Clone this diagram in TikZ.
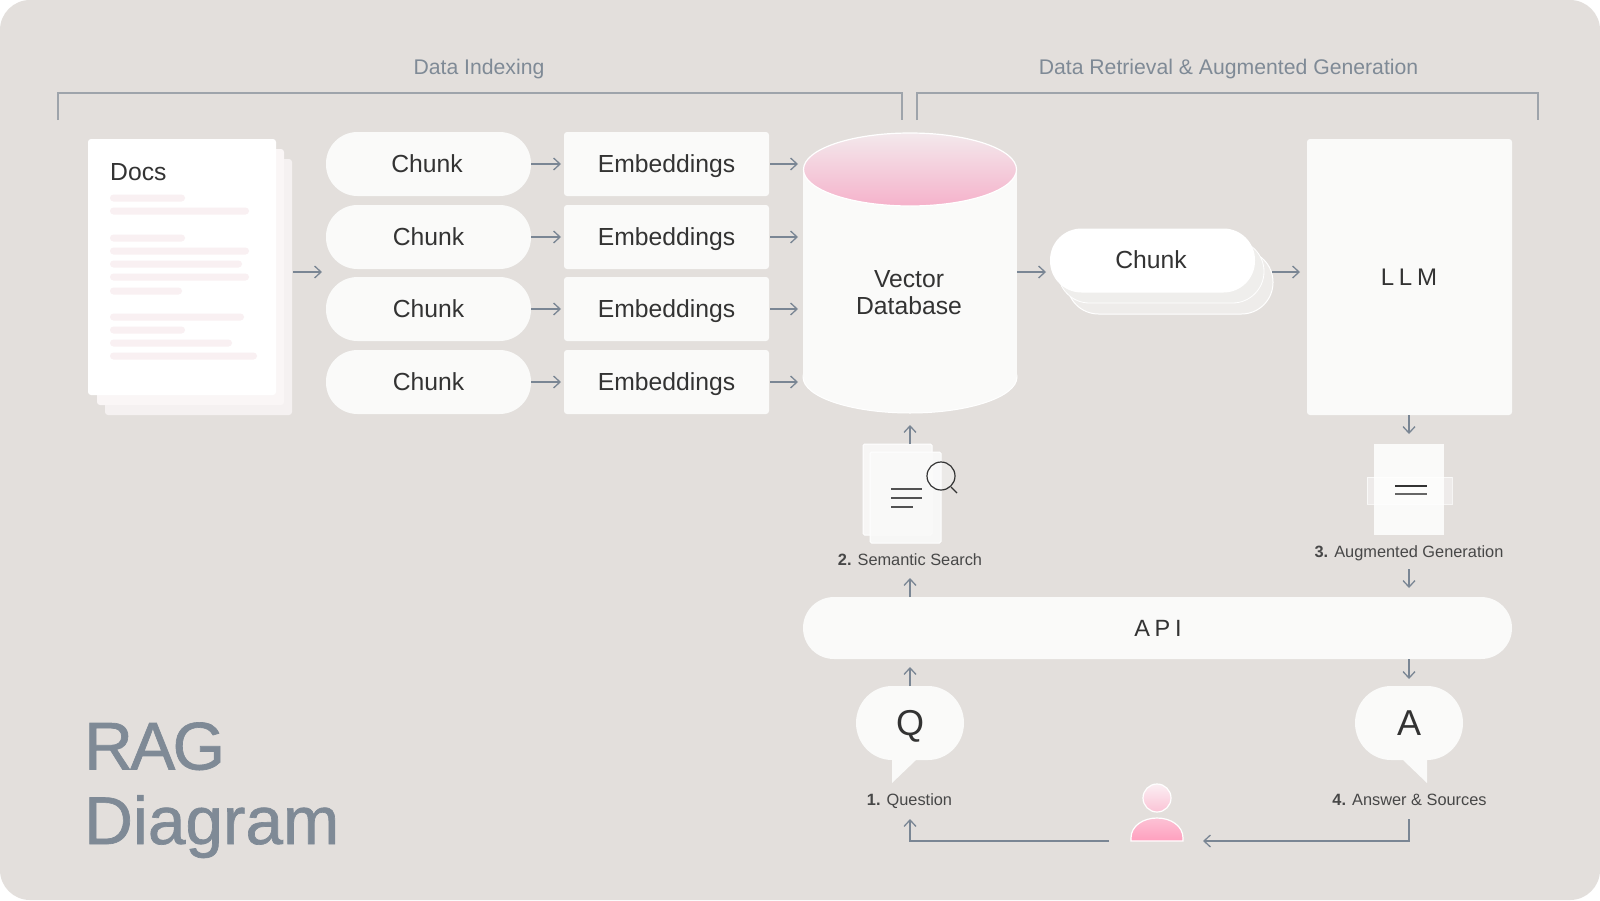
\documentclass[tikz,border=0pt]{standalone}
\usepackage{fontspec}
\setmainfont{Liberation Sans}
\newfontfamily\spacedfont[LetterSpace=20]{Liberation Sans}
\newfontfamily\titlefont[FakeBold=1]{Liberation Sans}
\usetikzlibrary{arrows.meta}
\definecolor{bgc}{HTML}{E3DFDC}
\definecolor{panel}{HTML}{FAFAF9}
\definecolor{inkc}{HTML}{333333}
\definecolor{slatec}{HTML}{7F8A96}
\definecolor{linec}{HTML}{7A8694}
\definecolor{brk}{HTML}{9EA4AB}
\definecolor{pinkline}{HTML}{F9F0F2}
\definecolor{dbtop}{HTML}{F3E9EC}
\definecolor{dbbot}{HTML}{F5B2CB}
\definecolor{stackc}{HTML}{EEECEA}
\definecolor{stackb}{HTML}{EFEEEC}
\definecolor{backdoc}{HTML}{F7F6F5}
\definecolor{headtop}{HTML}{FBEFF3}
\definecolor{headbot}{HTML}{FBC3D6}
\definecolor{bodytop}{HTML}{FCC2D5}
\definecolor{bodybot}{HTML}{FF9FBE}
\tikzset{
  flow/.style={draw=linec,line width=1.3pt,-{Straight Barb[length=6.5pt,width=12pt,line width=1.3pt]}},
  bracket/.style={draw=brk,line width=1.2pt},
  chunkbox/.style={fill=panel,rounded corners=31.5pt,minimum width=205pt,minimum height=64pt,inner sep=0pt,outer sep=0pt,text=inkc,text height=16pt,text depth=0pt,font=\fontsize{24.7}{24.7}\selectfont},
  embbox/.style={fill=panel,rounded corners=3pt,minimum width=205pt,minimum height=64pt,inner sep=0pt,outer sep=0pt,text=inkc,text height=16pt,text depth=0pt,font=\fontsize{24.7}{24.7}\selectfont},
  sheet/.style={rounded corners=3pt},
  head/.style={anchor=base,text=slatec,font=\fontsize{21.2}{21.2}\selectfont,inner sep=0pt},
  body/.style={anchor=base,text=inkc,font=\fontsize{24.7}{24.7}\selectfont,inner sep=0pt},
  caption/.style={anchor=base,text=inkc!90,font=\fontsize{16.35}{16.35}\selectfont,inner sep=0pt},
  titletext/.style={anchor=base west,text=slatec,font=\fontsize{67.5}{67.5}\titlefont,inner sep=0pt},
  ghost/.style={inner sep=0pt,outer sep=0pt},
  bubbletext/.style={inner sep=0pt,outer sep=0pt,minimum width=108pt,minimum height=74pt,text height=24pt,text depth=0pt,text=inkc,font=\fontsize{36}{36}\selectfont},
  docline/.style={fill=pinkline,rounded corners=3.5pt},
}
\begin{document}
\begin{tikzpicture}[x=1pt,y=-1pt]
\useasboundingbox (0,0) rectangle (1600,900);
\fill[white] (0,0) rectangle (1600,900);
\fill[bgc,rounded corners=30pt] (0,0) rectangle (1600,900);

% section headers
\node[head] (hidx) at (479,74) {Data Indexing};
\node[head] (hret) at (1228.5,74) {Data Retrieval \& Augmented Generation};
\coordinate (b1a) at (58,120); \coordinate (b1b) at (902,120);
\coordinate (b2a) at (917,120); \coordinate (b2b) at (1538,120);
\draw[bracket] (b1a) -- (58,93) -- (902,93) -- (b1b);
\draw[bracket] (b2a) -- (917,93) -- (1538,93) -- (b2b);

% docs
\foreach \a/\b/\c/\d/\f in {105/159/292/415/F5F1F1,97/149/284/405/FAF6F6}{
  \definecolor{tmpc}{HTML}{\f}
  \fill[tmpc,sheet] (\a,\b) rectangle (\c,\d);
}
\fill[white,sheet] (88,139) rectangle (276,395);
\node[ghost,minimum width=204pt,minimum height=276pt] (docs) at (190,277) {};
\node[anchor=base west,inner sep=0pt,text=inkc,font=\fontsize{24.7}{24.7}\selectfont] (docstitle) at (110,180) {Docs};
\foreach \y/\r in {198/185,211/249,238/185,251/249,264/242,277/249,291/182,317/244,330/185,343/232,356/257}{
  \fill[docline] (110,\y-3.5) rectangle (\r,\y+3.5);
}

% rows
\node[chunkbox] (c1) at (428.5,164) {\hspace{-3pt}Chunk};
\node[chunkbox] (c2) at (428.5,237) {Chunk};
\node[chunkbox] (c3) at (428.5,309) {Chunk};
\node[chunkbox] (c4) at (428.5,382) {Chunk};
\node[embbox] (e1) at (666.5,164) {Embeddings};
\node[embbox] (e2) at (666.5,237) {Embeddings};
\node[embbox] (e3) at (666.5,309) {Embeddings};
\node[embbox] (e4) at (666.5,382) {Embeddings};

% cylinder
\draw[white,fill=panel,line width=1pt] (910,377) ellipse[x radius=107,y radius=36];
\fill[panel] (803,170) rectangle (1017,377);
\shade[top color=dbtop,bottom color=dbbot,draw=white,line width=1.2pt] (910,169.5) ellipse[x radius=106.5,y radius=36.5];
\node[ghost,minimum width=214pt,minimum height=280pt] (cyl) at (910,273) {};
\node[body] (db1) at (909,287) {Vector};
\node[body] (db2) at (909,314) {Database};

% chunk stack
\foreach \e in {2,4,...,36}{
  \draw[black,opacity=.0012,line width=\e pt,rounded corners=31pt] (1075,262) rectangle (1265,318);
}
\draw[white,fill=stackc,line width=1pt,rounded corners=31.5pt] (1067,250.5) rectangle (1273,314);
\draw[white,fill=stackb,line width=.8pt,rounded corners=31.5pt] (1058,240) rectangle (1264,303);
\node[chunkbox,fill=white] (cs) at (1152.5,260.5) {};
\node[body] (cst) at (1151,268) {Chunk};

% LLM
\node[fill=panel,rounded corners=3pt,minimum width=205pt,minimum height=276pt,inner sep=0pt,outer sep=0pt] (llm) at (1409.5,277) {};
\node[anchor=base,inner sep=0pt,text=inkc,font=\fontsize{24}{24}\spacedfont] (llmt) at (1409,285) {LLM};

% API
\node[fill=panel,rounded corners=31pt,minimum width=709pt,minimum height=62pt,inner sep=0pt,outer sep=0pt] (api) at (1157.5,628) {};
\node[anchor=base,inner sep=0pt,text=inkc,font=\fontsize{23.5}{23.5}\spacedfont] (apit) at (1158,636) {API};

% semantic search doc
\draw[white,fill=backdoc,line width=1pt,rounded corners=1.5pt] (863,444) rectangle (932,535);
\draw[white,fill=panel,fill opacity=.9,line width=1pt,rounded corners=1.5pt] (870,452) rectangle (941,543);
\node[ghost,minimum width=78pt,minimum height=99pt] (sdoc) at (902,493.5) {};
\draw[inkc!85,line width=1.2pt] (891,489) -- (922,489) (891,498) -- (922,498) (891,507) -- (913,507);
\fill[white,opacity=.35] (941,476) circle[radius=14];
\draw[inkc,line width=1.2pt] (941,476) circle[radius=14];
\draw[inkc,line width=1.2pt] (951,487) -- (957,493);
\node[caption] (l2) at (910,565) {\textbf{2.} Semantic Search};

% augmented doc
\node[fill=panel,minimum width=70pt,minimum height=91pt,inner sep=0pt,outer sep=0pt] (adoc) at (1409,489.5) {};
\fill[white,opacity=.4] (1367,477) rectangle (1452,504);
\draw[white,opacity=.7,line width=.8pt] (1367,477) rectangle (1452,504);
\draw[inkc,line width=1.3pt] (1395,486) -- (1427,486);
\draw[inkc!75,line width=1.3pt] (1395,494) -- (1427,494);
\node[caption] (l3) at (1409,557) {\textbf{3.} Augmented Generation};

% bubbles
\fill[panel] (892,686) -- (928,686) .. controls +(19.9,0) and +(0,-20.4) .. (964,723) .. controls +(0,20.4) and +(19.9,0) .. (928,760) -- (916,760) -- (892,783) -- (892,760) .. controls +(-19.9,0) and +(0,20.4) .. (856,723) .. controls +(0,-20.4) and +(-19.9,0) .. cycle;
\node[bubbletext] (q) at (910,723) {Q};
\fill[panel] (1391,686) -- (1427,686) .. controls +(19.9,0) and +(0,-20.4) .. (1463,723) .. controls +(0,20.4) and +(19.9,0) .. (1427,760) -- (1427,783) -- (1403,760) -- (1391,760) .. controls +(-19.9,0) and +(0,20.4) .. (1355,723) .. controls +(0,-20.4) and +(-19.9,0) .. cycle;
\node[bubbletext] (a) at (1409,723) {A};
\node[caption] (l1) at (909.5,805) {\textbf{1.} Question};
\node[caption] (l4) at (1409.5,805) {\textbf{4.} Answer \& Sources};

% user
\shade[top color=headtop,bottom color=headbot,draw=white,line width=1.2pt] (1157,798) circle[radius=14];
\shade[top color=bodytop,bottom color=bodybot,draw=white,line width=1.2pt] (1131,841) -- (1131,838) .. controls +(0,-12) and +(-14,0) .. (1157,818) .. controls +(14,0) and +(0,-12) .. (1183,838) -- (1183,841) -- cycle;
\node[ghost,minimum width=52pt,minimum height=57pt] (user) at (1157,813) {};

% connectors
\foreach \c/\e in {c1/e1,c2/e2,c3/e3,c4/e4}{
  \draw[flow,shorten >=3pt] (\c.east) -- (\e.west);
  \draw[flow,shorten <=1pt,shorten >=5pt] (\e.east) -- (\e.east -| cyl.west);
}
\coordinate (docout) at (293,272);
\coordinate (toc) at (322,272);
\draw[flow] (docout) -- (toc);
\coordinate (cylout) at (1017,272);
\coordinate (tostack) at (1046,272);
\draw[flow] (cylout) -- (tostack);
\coordinate (stackout) at (1272,272);
\coordinate (tollm) at (1300,272);
\draw[flow] (stackout) -- (tollm);
\coordinate (llmb) at (1409,415); \coordinate (toadoc) at (1409,434);
\draw[flow] (llmb) -- (toadoc);
\coordinate (l3b) at (1409,569); \coordinate (toapi) at (1409,588);
\draw[flow] (l3b) -- (toapi);
\coordinate (apib) at (1409,659); \coordinate (toa) at (1409,679);
\draw[flow] (apib) -- (toa);
\coordinate (qt) at (910,686); \coordinate (toapi2) at (910,667);
\draw[flow] (qt) -- (toapi2);
\coordinate (apit2) at (910,597); \coordinate (tol2) at (910,578);
\draw[flow] (apit2) -- (tol2);
\coordinate (sdt) at (910,444); \coordinate (tocyl) at (910,425);
\draw[flow] (sdt) -- (tocyl);
\coordinate (ul) at (1109,841); \coordinate (tol1) at (910,819);
\draw[flow] (ul) -| (tol1);
\coordinate (l4b) at (1409,819); \coordinate (tou) at (1203,841);
\draw[flow] (l4b) |- (tou);

% title
\node[titletext] (t1) at (84,769.5) {\addfontfeature{LetterSpace=-4}RAG};
\node[titletext] (t2) at (84,844) {Diagram};
\end{tikzpicture}
\end{document}
